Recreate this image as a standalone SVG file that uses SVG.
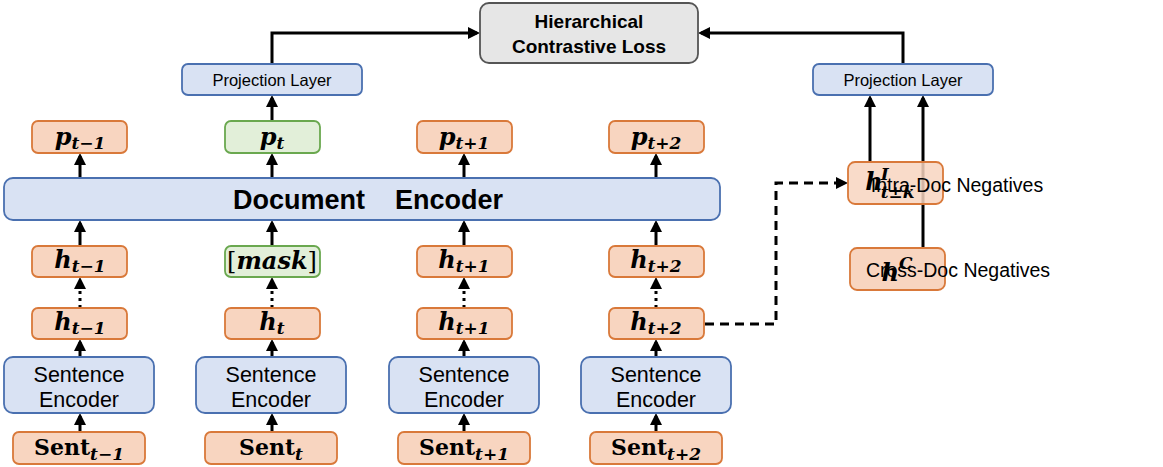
<svg xmlns="http://www.w3.org/2000/svg" width="1163" height="467" viewBox="0 0 1163 467">
<style>
.o{fill:#f8d5c0;stroke:#d9793a;stroke-width:1.8}
.b{fill:#d9e2f3;stroke:#4a70b0;stroke-width:1.8}
.g{fill:#e2efd9;stroke:#6aa84f;stroke-width:1.8}
.gr{fill:#e6e6e6;stroke:#555;stroke-width:1.8}
.m{font-family:"DejaVu Serif","Liberation Serif",serif;font-weight:bold;font-style:italic;font-size:24px;text-anchor:middle;fill:#000}
.s{font-size:17px}
.sb{font-family:"DejaVu Serif","Liberation Serif",serif;font-weight:bold;font-size:22px;text-anchor:middle;fill:#000}
.t{font-family:"Liberation Sans","DejaVu Sans",sans-serif;text-anchor:middle;fill:#000}
.a{stroke:#000;stroke-width:3;fill:none;marker-end:url(#ar)}
.d{stroke:#000;stroke-width:3;fill:none;stroke-dasharray:3 4;marker-end:url(#ar)}
.dash{stroke:#000;stroke-width:3;fill:none;stroke-dasharray:9 6;marker-end:url(#ar)}
</style>
<defs><marker id="ar" markerWidth="4" markerHeight="4" refX="3" refY="2" orient="auto"><path d="M0,0L4,2L0,4z" fill="#000"/></marker></defs>
<g id="connectors">
<path class="a" d="M80,432V416"/><path class="a" d="M272,432V416"/><path class="a" d="M464,432V416"/><path class="a" d="M656,432V416"/>
<path class="a" d="M80,357V342"/><path class="a" d="M272,357V342"/><path class="a" d="M464,357V342"/><path class="a" d="M656,357V342"/>
<path class="d" d="M80,308V280"/><path class="d" d="M272,308V280"/><path class="d" d="M464,308V280"/><path class="d" d="M656,308V280"/>
<path class="a" d="M80,246V223"/><path class="a" d="M272,246V223"/><path class="a" d="M464,246V223"/><path class="a" d="M656,246V223"/>
<path class="a" d="M80,178V156"/><path class="a" d="M272,178V156"/><path class="a" d="M464,178V156"/><path class="a" d="M656,178V156"/>
<path class="a" d="M272,121V98"/>
<path class="a" d="M272,64V33H477"/>
<path class="a" d="M903,64V33H701"/>
<path class="a" d="M870,162V98"/>
<path class="a" d="M923,248V98"/>
<path class="dash" d="M705,324H776V183H845"/>
</g>
<g id="loss"><rect class="gr" x="480" y="3" width="218" height="60" rx="9"/><text class="t" x="589" y="28" font-size="19" font-weight="bold" fill="#222">Hierarchical</text><text class="t" x="589" y="53" font-size="19" font-weight="bold" fill="#222">Contrastive Loss</text></g>
<g id="projL"><rect class="b" x="182" y="64" width="180" height="31" rx="6"/><text class="t" x="272" y="86" font-size="16.5">Projection Layer</text></g>
<g id="projR"><rect class="b" x="813" y="64" width="180" height="31" rx="6"/><text class="t" x="903" y="86" font-size="16.5">Projection Layer</text></g>
<g id="doc"><rect class="b" x="4" y="178" width="716" height="42" rx="9"/><text class="t" x="368" y="209" font-size="27" font-weight="bold" fill="#111">Document<tspan dx="30">Encoder</tspan></text></g>
<g id="p1"><rect class="o" x="32" y="121" width="95" height="32" rx="6"/><text class="m" x="80" y="145">p<tspan class="s" dy="4">t−1</tspan></text></g>
<g id="p2"><rect class="g" x="225" y="121" width="95" height="32" rx="6"/><text class="m" x="272" y="145">p<tspan class="s" dy="4">t</tspan></text></g>
<g id="p3"><rect class="o" x="417" y="121" width="95" height="32" rx="6"/><text class="m" x="464" y="145">p<tspan class="s" dy="4">t+1</tspan></text></g>
<g id="p4"><rect class="o" x="609" y="121" width="95" height="32" rx="6"/><text class="m" x="656" y="145">p<tspan class="s" dy="4">t+2</tspan></text></g>
<g id="hu1"><rect class="o" x="32" y="246" width="95" height="31" rx="6"/><text class="m" x="80" y="268">h<tspan class="s" dy="4">t−1</tspan></text></g>
<g id="hu2"><rect class="g" x="225" y="246" width="95" height="31" rx="6"/><text class="m" x="272" y="269" font-size="20"><tspan font-style="normal" font-weight="normal">[</tspan>mask<tspan font-style="normal" font-weight="normal">]</tspan></text></g>
<g id="hu3"><rect class="o" x="417" y="246" width="95" height="31" rx="6"/><text class="m" x="464" y="268">h<tspan class="s" dy="4">t+1</tspan></text></g>
<g id="hu4"><rect class="o" x="609" y="246" width="95" height="31" rx="6"/><text class="m" x="656" y="268">h<tspan class="s" dy="4">t+2</tspan></text></g>
<g id="hl1"><rect class="o" x="32" y="308" width="95" height="31" rx="6"/><text class="m" x="80" y="330">h<tspan class="s" dy="4">t−1</tspan></text></g>
<g id="hl2"><rect class="o" x="225" y="308" width="95" height="31" rx="6"/><text class="m" x="272" y="330">h<tspan class="s" dy="4">t</tspan></text></g>
<g id="hl3"><rect class="o" x="417" y="308" width="95" height="31" rx="6"/><text class="m" x="464" y="330">h<tspan class="s" dy="4">t+1</tspan></text></g>
<g id="hl4"><rect class="o" x="609" y="308" width="95" height="31" rx="6"/><text class="m" x="656" y="330">h<tspan class="s" dy="4">t+2</tspan></text></g>
<g id="se1"><rect class="b" x="4" y="357" width="150" height="56" rx="9"/><text class="t" x="79" y="382" font-size="21.5">Sentence</text><text class="t" x="79" y="407" font-size="21.5">Encoder</text></g>
<g id="se2"><rect class="b" x="196" y="357" width="150" height="56" rx="9"/><text class="t" x="271" y="382" font-size="21.5">Sentence</text><text class="t" x="271" y="407" font-size="21.5">Encoder</text></g>
<g id="se3"><rect class="b" x="389" y="357" width="150" height="56" rx="9"/><text class="t" x="464" y="382" font-size="21.5">Sentence</text><text class="t" x="464" y="407" font-size="21.5">Encoder</text></g>
<g id="se4"><rect class="b" x="581" y="357" width="150" height="56" rx="9"/><text class="t" x="656" y="382" font-size="21.5">Sentence</text><text class="t" x="656" y="407" font-size="21.5">Encoder</text></g>
<g id="s1"><rect class="o" x="13" y="432" width="132" height="32" rx="6"/><text class="sb" x="79" y="455">Sent<tspan class="m s" dy="5">t−1</tspan></text></g>
<g id="s2"><rect class="o" x="205" y="432" width="132" height="32" rx="6"/><text class="sb" x="271" y="455">Sent<tspan class="m s" dy="5">t</tspan></text></g>
<g id="s3"><rect class="o" x="398" y="432" width="132" height="32" rx="6"/><text class="sb" x="464" y="455">Sent<tspan class="m s" dy="5">t+1</tspan></text></g>
<g id="s4"><rect class="o" x="590" y="432" width="132" height="32" rx="6"/><text class="sb" x="656" y="455">Sent<tspan class="m s" dy="5">t+2</tspan></text></g>
<g id="hI"><rect class="o" x="848" y="162" width="95" height="42" rx="7" fill-opacity="0.85"/><text class="m" x="890" y="190" font-size="26">h<tspan class="s" dy="-10" dx="-2">I</tspan><tspan class="s" dx="-8" dy="18">t±k</tspan></text></g>
<g id="hC"><rect class="o" x="850" y="248" width="95" height="42" rx="7"/><text class="m" x="897" y="281" font-size="26">h<tspan class="s" dy="-12">C</tspan></text></g>
<text class="t" x="957" y="192" font-size="19.5" text-anchor="start">Intra-Doc Negatives</text>
<text class="t" x="958" y="277" font-size="19.5" text-anchor="start">Cross-Doc Negatives</text>
</svg>
